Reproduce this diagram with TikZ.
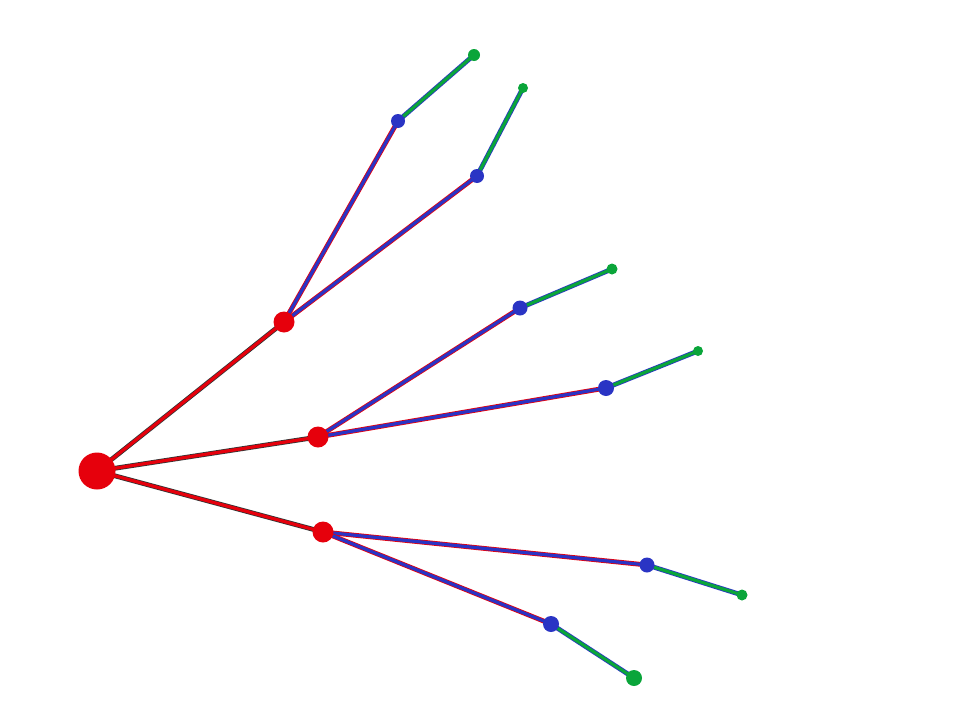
\documentclass[tikz,border=0pt]{standalone}
\usetikzlibrary{backgrounds}
\definecolor{cred}{RGB}{230,0,12}
\definecolor{cblue}{RGB}{42,52,196}
\definecolor{cgreen}{RGB}{10,165,58}
\begin{document}
\begin{tikzpicture}[x=1pt,y=-1pt,
  dot/.style={circle,inner sep=0pt,draw=none},
  rdot/.style={dot,fill=cred},
  bdot/.style={dot,fill=cblue},
  gdot/.style={dot,fill=cgreen},
  redline/.style={line width=4.8pt,draw=black!80,postaction={draw=cred,line width=3.2pt}},
  blueline/.style={line width=4.8pt,draw=cred,postaction={draw=cblue,line width=3.2pt}},
  greenline/.style={line width=4.8pt,draw=cblue,postaction={draw=cgreen,line width=3.2pt}}]
\useasboundingbox (0,0) rectangle (961,723);
% nodes
\node[rdot,minimum size=37pt] (R) at (97,471) {};
\node[rdot,minimum size=21pt] (A) at (284,322) {};
\node[rdot,minimum size=21pt] (B) at (318,437) {};
\node[rdot,minimum size=21pt] (C) at (323,532) {};
\node[bdot,minimum size=14pt] (A1) at (398,121) {};
\node[bdot,minimum size=14pt] (A2) at (477,176) {};
\node[bdot,minimum size=15pt] (B1) at (520,308) {};
\node[bdot,minimum size=16pt] (B2) at (606,388) {};
\node[bdot,minimum size=15pt] (C1) at (647,565) {};
\node[bdot,minimum size=16pt] (C2) at (551,624) {};
\node[gdot,minimum size=12pt] (A1g) at (474,55) {};
\node[gdot,minimum size=10pt] (A2g) at (523,88) {};
\node[gdot,minimum size=11pt] (B1g) at (612,269) {};
\node[gdot,minimum size=10pt] (B2g) at (698,351) {};
\node[gdot,minimum size=11pt] (C1g) at (742,595) {};
\node[gdot,minimum size=16pt] (C2g) at (634,678) {};
% edges
\begin{scope}[on background layer]
\foreach \u/\v in {A1/A1g,A2/A2g,B1/B1g,B2/B2g,C1/C1g,C2/C2g} \draw[greenline] (\u.center) -- (\v.center);
\foreach \u/\v in {A/A1,A/A2,B/B1,B/B2,C/C1,C/C2} \draw[blueline] (\u.center) -- (\v.center);
\foreach \v in {A,B,C} \draw[redline] (R.center) -- (\v.center);
\end{scope}
\end{tikzpicture}
\end{document}
